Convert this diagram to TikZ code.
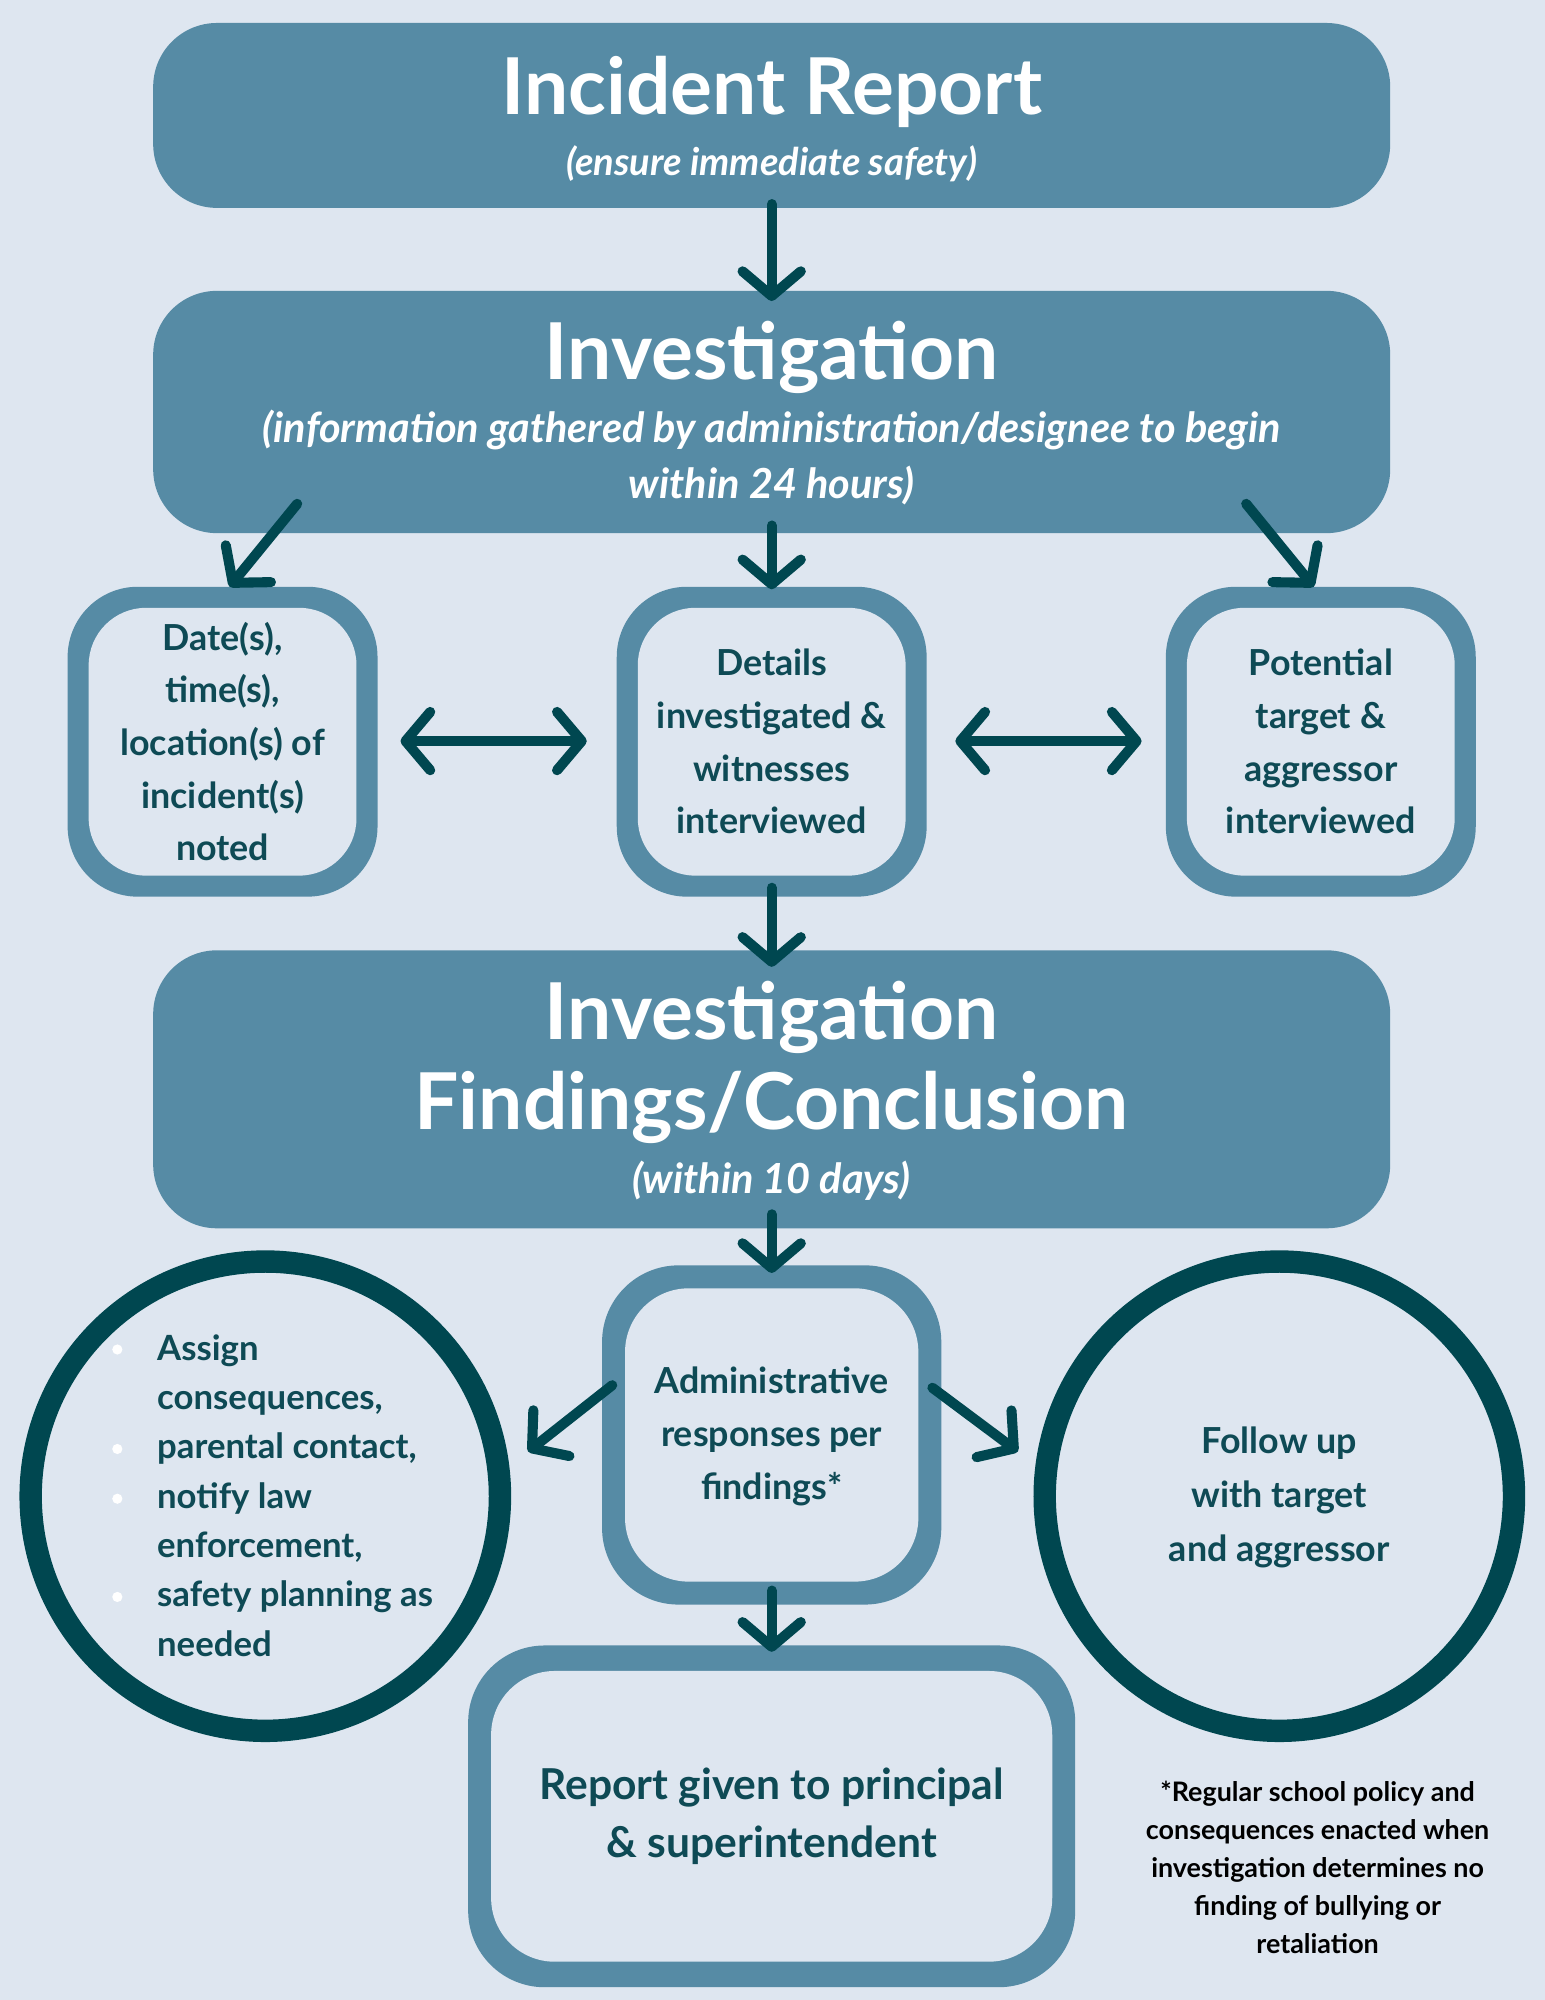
\documentclass[tikz,border=0pt]{standalone}
\usepackage{fontspec}
\setmainfont{Lato}
\usetikzlibrary{arrows.meta,shapes.geometric}
\definecolor{bg}{HTML}{DEE6F0}
\definecolor{mid}{HTML}{568BA5}
\definecolor{dark}{HTML}{004750}
\definecolor{txt}{HTML}{0E4A55}
\begin{document}
\begin{tikzpicture}[x=0.02cm,y=-0.02cm,
  big/.style={fill=mid,rounded corners=1cm,minimum width=19.4cm,text=white,align=center,inner sep=0pt},
  outer/.style={fill=mid,rounded corners=1.1cm,inner sep=0pt},
  inner/.style={fill=bg,rounded corners=0.9cm,inner sep=0pt,text=txt,align=center,font=\bfseries\fontsize{16}{23.5}\selectfont},
  ring/.style={circle,draw=dark,line width=10pt,fill=bg,minimum size=7.36cm,inner sep=0pt},
  arr/.style={draw=dark,line width=4.5pt,line cap=round,-{Straight Barb[length=11pt,width=26pt,line width=4.5pt,round]}},
  darr/.style={arr,{Straight Barb[length=11pt,width=26pt,line width=4.5pt,round]}-{Straight Barb[length=11pt,width=26pt,line width=4.5pt,round]}},
  ttl/.style={font=\bfseries\fontsize{35}{40}\selectfont},
  sub/.style={font=\bfseries\itshape\fontsize{18.5}{25}\selectfont}]
\fill[bg] (0,0) rectangle (1211,1568);
\useasboundingbox (0,0) rectangle (1211,1568);
% top boxes
\node[big,minimum height=2.9cm] (ir) at (605,90.5) {};
\node[white,ttl] (irt) at (605,72) {Incident Report};
\node[white,sub,font=\bfseries\itshape\fontsize{17}{22}\selectfont] (irs) at (605,128) {(ensure immediate safety)};
\node[big,minimum height=3.8cm] (inv) at (605,323) {};
\node[white,ttl] (invt) at (605,280) {Investigation};
\node[white,sub,align=center] (invs) at (605,359) {(information gathered by administration/designee to begin\\within 24 hours)};
% small boxes
\foreach \n/\x in {l/174.5,c/605,r/1035.5}{
  \node[outer,minimum width=4.86cm,minimum height=4.86cm] (o\n) at (\x,581.5) {};
}
\node[inner,minimum width=4.2cm,minimum height=4.2cm] (il) at (174.5,581.5) {Date(s),\\time(s),\\location(s) of\\incident(s)\\noted};
\node[inner,minimum width=4.2cm,minimum height=4.2cm] (ic) at (605,581.5) {Details\\investigated \&\\witnesses\\interviewed};
\node[inner,minimum width=4.2cm,minimum height=4.2cm] (irr) at (1035.5,581.5) {Potential\\target \&\\aggressor\\interviewed};
% findings
\node[big,minimum height=4.36cm] (fi) at (605,854) {};
\node[white,ttl,align=center] (fit) at (605,833) {Investigation\\Findings/Conclusion};
\node[white,sub,font=\bfseries\itshape\fontsize{18.5}{22}\selectfont] (fis) at (605,926) {(within 10 days)};
% admin
\node[outer,rounded corners=1.2cm,minimum width=5.32cm,minimum height=5.32cm] (oa) at (605,1125) {};
\node[inner,rounded corners=1cm,minimum width=4.6cm,minimum height=4.6cm,font=\bfseries\fontsize{16}{23.5}\selectfont] (ia) at (605,1125) {};
\node[txt,align=center,font=\bfseries\fontsize{16}{23.5}\selectfont] (iat) at (605,1126) {Administrative\\responses per\\findings*};
% circles
\node[ring] (cl) at (208,1173) {};
\node[ring] (cr) at (1003,1173) {};
\node[txt,align=left,anchor=north west,font=\bfseries\fontsize{15.5}{22}\selectfont] (clt) at (117,1040) {Assign\\consequences,\\parental contact,\\notify law\\enforcement,\\safety planning as\\needed};
\foreach \y in {1058,1136,1175,1252}{\fill[white] (92,\y) circle (4);}
\node[txt,align=center,font=\bfseries\fontsize{16}{24}\selectfont] (crt) at (1003,1174) {Follow up\\with target\\and aggressor};
% bottom
\node[outer,rounded corners=1.2cm,minimum width=9.52cm,minimum height=5.36cm] (ob) at (605,1424) {};
\node[inner,rounded corners=1cm,minimum width=8.8cm,minimum height=4.56cm,font=\bfseries\fontsize{19}{26}\selectfont] (ib) at (605,1424) {Report given to principal\\\& superintendent};
\node[black,align=center,font=\bfseries\fontsize{12}{17}\selectfont] (fn) at (1033,1464) {*Regular school policy and\\consequences enacted when\\investigation determines no\\finding of bullying or\\retaliation};
% arrows
\coordinate (a1) at (605,160); \coordinate (a2) at (605,236);
\draw[arr] (a1) -- (a2);
\coordinate (b1) at (233,395); \coordinate (b2) at (180,460);
\coordinate (c1) at (605,412); \coordinate (c2) at (605,462);
\coordinate (d1) at (977,395); \coordinate (d2) at (1030,460);
\draw[arr] (b1) -- (b2); \draw[arr] (c1) -- (c2); \draw[arr] (d1) -- (d2);
\coordinate (e1) at (314,581); \coordinate (e2) at (460,581);
\coordinate (f1) at (749,581); \coordinate (f2) at (895,581);
\draw[darr] (e1) -- (e2); \draw[darr] (f1) -- (f2);
\coordinate (g1) at (605,696); \coordinate (g2) at (605,758);
\draw[arr] (g1) -- (g2);
\coordinate (h1) at (605,952); \coordinate (h2) at (605,998);
\draw[arr] (h1) -- (h2);
\coordinate (k1) at (480,1086); \coordinate (k2) at (414,1138);
\coordinate (m1) at (731,1088); \coordinate (m2) at (798,1138);
\draw[arr] (k1) -- (k2); \draw[arr] (m1) -- (m2);
\coordinate (n1) at (605,1247); \coordinate (n2) at (605,1295);
\draw[arr] (n1) -- (n2);
\end{tikzpicture}
\end{document}
